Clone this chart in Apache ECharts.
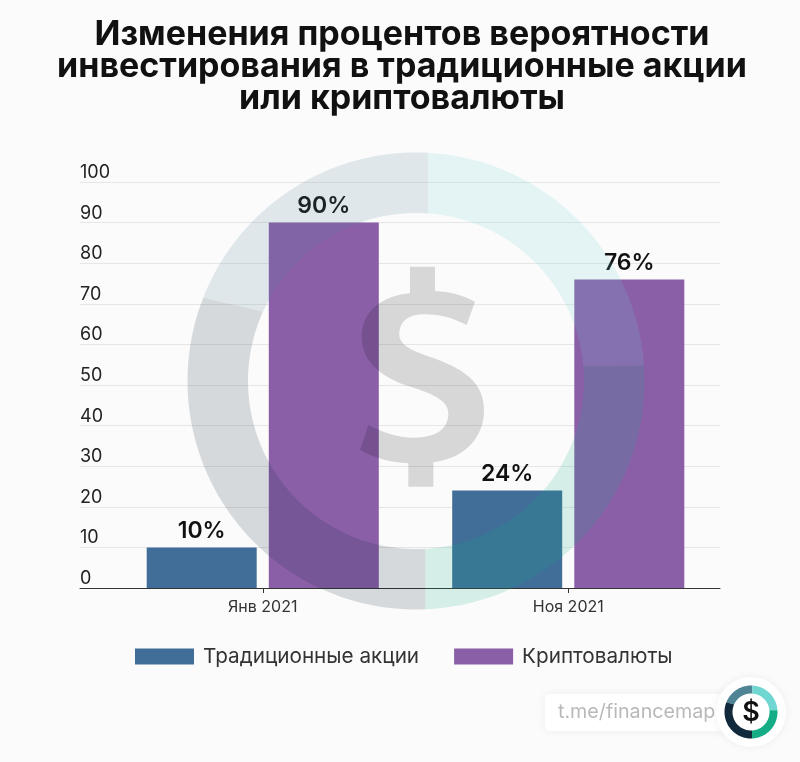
<!DOCTYPE html>
<html>
<head>
<meta charset="utf-8">
<style>
html, body { margin: 0; padding: 0; background: #fbfbfb; }
#chart { width: 800px; height: 762px; }
</style>
<script src="https://cdn.jsdelivr.net/npm/echarts@6/dist/echarts.min.js"></script>
</head>
<body>
<div id="chart"></div>
<script>
var titleText = 'Изменения процентов вероятности\nинвестирования в традиционные акции\nили криптовалюты';
var categories = ['Янв 2021', 'Ноя 2021'];
var stockValues = [10, 24];
var cryptoValues = [90, 76];
var stocksName = 'Традиционные акции';
var cryptoName = 'Криптовалюты';
var FONT = 'Inter';
var DOLLAR_PATH = 'M210 115L210 35L285 35L285 108C330 110 372 122 405 140L380 210C340 190 300 178 255 178C205 178 178 200 178 238C178 275 225 290 290 313C375 345 432 385 432 465C432 555 365 612 280 622L280 695L205 695L205 625C150 622 100 608 60 585L85 510C130 532 170 548 222 548C285 548 325 525 325 475C325 435 275 415 195 390C115 360 65 315 65 245C65 170 125 122 210 115Z';

echarts.graphic.registerShape('dollarSign', echarts.graphic.extendPath(DOLLAR_PATH, {}));

// logo ring piece, the cuts are not radial so outer and inner arc have their own angles
function ringSeg(cx, cy, r, r0, outer, inner, fill, opacity, z) {
    var pts = [];
    var i, a;
    for (i = 0; i <= 60; i++) {
        a = (outer[0] + (outer[1] - outer[0]) * i / 60) * Math.PI / 180;
        pts.push([cx + r * Math.cos(a), cy + r * Math.sin(a)]);
    }
    for (i = 60; i >= 0; i--) {
        a = (inner[0] + (inner[1] - inner[0]) * i / 60) * Math.PI / 180;
        pts.push([cx + r0 * Math.cos(a), cy + r0 * Math.sin(a)]);
    }
    return {type: 'polygon', z: z, silent: true, shape: {points: pts}, style: {fill: fill, opacity: opacity}};
}

function ring(cx, cy, r, r0, opacity, z) {
    return [
        ringSeg(cx, cy, r, r0, [201.4, 273], [204.3, 274.1], '#4e8494', opacity, z),
        ringSeg(cx, cy, r, r0, [273, 356.2], [274.1, 354.9], '#6fd6d2', opacity, z),
        ringSeg(cx, cy, r, r0, [-3.8, 87.7], [-5.1, 86.9], '#15ad85', opacity, z),
        ringSeg(cx, cy, r, r0, [87.7, 201.4], [86.9, 204.3], '#12293c', opacity, z)
    ];
}

var chart = echarts.init(document.getElementById('chart'));

chart.setOption({
    backgroundColor: '#fbfbfb',
    animation: false,
    title: {
        text: titleText,
        left: 397,
        top: 14,
        textAlign: 'center',
        textStyle: {fontFamily: FONT, fontSize: 34, fontWeight: 700, color: '#111', lineHeight: 32}
    },
    legend: {
        left: 135,
        top: 646,
        padding: 0,
        itemWidth: 59,
        itemHeight: 16,
        itemGap: 35,
        icon: 'rect',
        textStyle: {fontFamily: FONT, fontSize: 20.7, color: '#333', padding: [0, 0, 0, 4]},
        data: [stocksName, cryptoName]
    },
    grid: [
        {left: 80, right: 80, top: 182, height: 406},
        {left: 110, right: 79, top: 182, height: 406}
    ],
    xAxis: [
        {
            type: 'category', gridIndex: 0, data: categories,
            axisLine: {lineStyle: {color: '#333', width: 1}},
            axisTick: {show: false}, axisLabel: {show: false}
        },
        {
            type: 'category', gridIndex: 1, data: categories,
            axisLine: {show: false},
            axisTick: {show: true, alignWithLabel: true, length: 5, lineStyle: {color: '#333'}},
            axisLabel: {fontFamily: FONT, fontSize: 16, color: '#333', margin: 11}
        }
    ],
    yAxis: [
        {
            type: 'value', gridIndex: 0, min: 0, max: 100, interval: 10,
            axisLine: {show: false}, axisTick: {show: false},
            axisLabel: {inside: true, fontFamily: FONT, fontSize: 18, lineHeight: 19, color: '#222', verticalAlign: 'bottom', margin: 0},
            splitLine: {lineStyle: {color: '#e6e6e6', width: 1}}
        },
        {
            type: 'value', gridIndex: 1, min: 0, max: 100, interval: 10,
            axisLine: {show: false}, axisTick: {show: false}, axisLabel: {show: false}, splitLine: {show: false}
        }
    ],
    series: [
        {
            name: stocksName, type: 'bar', xAxisIndex: 1, yAxisIndex: 1, data: stockValues,
            barWidth: 110, barGap: '11%',
            itemStyle: {color: '#406e99'},
            label: {show: true, position: 'top', distance: 5, formatter: '{c}%', fontFamily: FONT, fontSize: 23, fontWeight: 600, color: '#111'}
        },
        {
            name: cryptoName, type: 'bar', xAxisIndex: 1, yAxisIndex: 1, data: cryptoValues,
            barWidth: 110,
            itemStyle: {color: '#8a5fa8'},
            label: {show: true, position: 'top', distance: 5, formatter: '{c}%', fontFamily: FONT, fontSize: 23, fontWeight: 600, color: '#111'}
        }
    ],
    graphic: ring(416, 381, 228.5, 168, 0.16, 50).concat([
        {
            type: 'dollarSign', z: 50, silent: true,
            x: 340, y: 255, scaleX: 1 / 3, scaleY: 1 / 3,
            style: {fill: '#000', opacity: 0.14}
        },
        {
            type: 'rect', z: 60, silent: true,
            shape: {x: 545, y: 694, width: 185, height: 37, r: 5},
            style: {fill: '#fff', shadowBlur: 10, shadowColor: 'rgba(0,0,0,0.06)'}
        },
        {
            type: 'text', z: 61, silent: true, x: 558, y: 712,
            style: {text: 't.me/financemap', fontFamily: FONT, fontSize: 19.7, fill: '#b9b9b9', verticalAlign: 'middle'}
        },
        {
            type: 'circle', z: 62, silent: true,
            shape: {cx: 751, cy: 712, r: 35},
            style: {fill: '#fff', shadowBlur: 10, shadowColor: 'rgba(0,0,0,0.06)'}
        }
    ]).concat(ring(751, 712, 26.5, 18.5, 1, 63)).concat([
        {
            type: 'text', z: 64, silent: true, x: 751, y: 713,
            style: {text: '$', fontFamily: FONT, fontSize: 27, fontWeight: 600, fill: '#111', align: 'center', verticalAlign: 'middle'}
        }
    ])
});
</script>
</body>
</html>
